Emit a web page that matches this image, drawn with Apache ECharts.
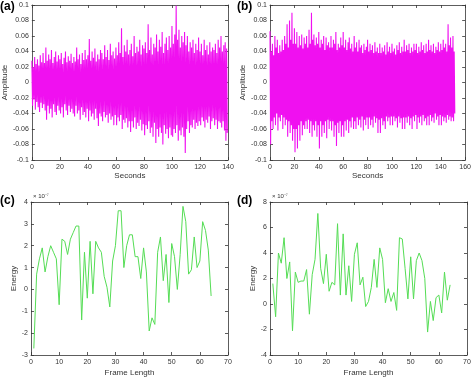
<!DOCTYPE html>
<html>
<head>
<meta charset="utf-8">
<script src="https://cdn.jsdelivr.net/npm/echarts@6/dist/echarts.min.js"></script>
<style>html,body{margin:0;padding:0;background:#fff}#c{width:474px;height:378px}</style>
</head>
<body>
<div id="c"></div>
<script>
// ---- Panel (a): estimated positive / negative peak per second
const aUpper = [
  0.028,0.02,0.033,0.024,0.03,0.022,0.035,0.026,0.038,0.025,
  0.045,0.028,0.036,0.03,0.042,0.025,0.033,0.04,0.027,0.035,
  0.03,0.038,0.024,0.032,0.04,0.026,0.034,0.028,0.037,0.025,
  0.033,0.027,0.045,0.03,0.036,0.024,0.038,0.029,0.042,0.03,
  0.035,0.056,0.028,0.04,0.032,0.044,0.027,0.036,0.03,0.042,
  0.038,0.03,0.048,0.033,0.042,0.029,0.05,0.035,0.04,0.031,
  0.045,0.035,0.052,0.038,0.07,0.033,0.048,0.04,0.055,0.036,
  0.042,0.05,0.034,0.06,0.038,0.046,0.04,0.055,0.036,0.048,
  0.044,0.052,0.038,0.075,0.042,0.058,0.036,0.05,0.045,0.062,
  0.04,0.055,0.046,0.065,0.038,0.05,0.058,0.042,0.06,0.045,
  0.073,0.05,0.062,0.099,0.055,0.068,0.045,0.06,0.052,0.065,
  0.048,0.06,0.04,0.052,0.045,0.055,0.038,0.05,0.042,0.058,
  0.04,0.05,0.035,0.055,0.042,0.048,0.036,0.052,0.04,0.045,
  0.042,0.05,0.038,0.055,0.045,0.06,0.04,0.048,0.052,0.044];
const aLower = [
  -0.03,-0.022,-0.035,-0.025,-0.032,-0.038,-0.026,-0.033,-0.028,-0.036,
  -0.048,-0.03,-0.04,-0.034,-0.045,-0.028,-0.038,-0.042,-0.03,-0.036,
  -0.04,-0.032,-0.045,-0.028,-0.036,-0.042,-0.03,-0.038,-0.034,-0.04,
  -0.044,-0.03,-0.04,-0.036,-0.048,-0.032,-0.042,-0.038,-0.045,-0.034,
  -0.05,-0.036,-0.044,-0.04,-0.048,-0.034,-0.046,-0.056,-0.04,-0.044,
  -0.05,-0.038,-0.045,-0.042,-0.052,-0.04,-0.048,-0.044,-0.055,-0.042,
  -0.055,-0.045,-0.05,-0.042,-0.06,-0.048,-0.052,-0.046,-0.058,-0.05,
  -0.064,-0.05,-0.058,-0.045,-0.06,-0.052,-0.056,-0.048,-0.062,-0.054,
  -0.068,-0.055,-0.06,-0.05,-0.065,-0.058,-0.07,-0.052,-0.078,-0.06,
  -0.07,-0.058,-0.065,-0.08,-0.055,-0.066,-0.06,-0.072,-0.058,-0.068,
  -0.07,-0.06,-0.065,-0.055,-0.075,-0.062,-0.068,-0.058,-0.07,-0.091,
  -0.06,-0.05,-0.065,-0.055,-0.058,-0.048,-0.06,-0.052,-0.056,-0.05,
  -0.055,-0.045,-0.05,-0.058,-0.048,-0.052,-0.044,-0.06,-0.05,-0.046,
  -0.055,-0.048,-0.06,-0.05,-0.052,-0.058,-0.05,-0.062,-0.075,-0.065];

// ---- Panel (b)
const bUpper = [
  0.066,0.04,0.05,0.035,0.06,0.045,0.055,0.038,0.048,0.04,
  0.055,0.042,0.06,0.05,0.075,0.045,0.08,0.055,0.09,0.05,
  0.07,0.05,0.065,0.045,0.06,0.048,0.062,0.044,0.058,0.05,
  0.06,0.045,0.068,0.05,0.09,0.055,0.062,0.048,0.058,0.05,
  0.065,0.045,0.055,0.05,0.06,0.042,0.058,0.048,0.052,0.045,
  0.06,0.045,0.055,0.05,0.065,0.042,0.05,0.045,0.058,0.048,
  0.065,0.045,0.055,0.042,0.052,0.058,0.044,0.05,0.04,0.06,
  0.045,0.052,0.04,0.055,0.045,0.048,0.038,0.05,0.042,0.046,
  0.055,0.04,0.05,0.042,0.048,0.038,0.052,0.04,0.045,0.038,
  0.05,0.038,0.045,0.04,0.048,0.036,0.052,0.04,0.046,0.038,
  0.05,0.04,0.044,0.036,0.048,0.042,0.052,0.038,0.046,0.04,
  0.055,0.04,0.048,0.042,0.05,0.038,0.045,0.04,0.05,0.042,
  0.05,0.038,0.046,0.04,0.052,0.042,0.048,0.038,0.05,0.04,
  0.055,0.042,0.048,0.04,0.05,0.038,0.046,0.042,0.052,0.04,
  0.05,0.042,0.055,0.045,0.05,0.04,0.075,0.048,0.058,0.045,
  0.06,0.04];
const bLower = [
  -0.08,-0.05,-0.06,-0.045,-0.055,-0.04,-0.062,-0.045,-0.05,-0.042,
  -0.06,-0.045,-0.055,-0.048,-0.07,-0.05,-0.065,-0.055,-0.075,-0.06,
  -0.09,-0.06,-0.085,-0.055,-0.075,-0.05,-0.068,-0.055,-0.06,-0.05,
  -0.06,-0.048,-0.065,-0.05,-0.07,-0.055,-0.062,-0.05,-0.07,-0.055,
  -0.085,-0.05,-0.07,-0.055,-0.065,-0.05,-0.072,-0.048,-0.06,-0.05,
  -0.062,-0.05,-0.07,-0.055,-0.082,-0.052,-0.065,-0.05,-0.07,-0.055,
  -0.07,-0.05,-0.062,-0.048,-0.065,-0.05,-0.058,-0.045,-0.06,-0.05,
  -0.06,-0.045,-0.055,-0.048,-0.058,-0.044,-0.062,-0.048,-0.055,-0.045,
  -0.06,-0.045,-0.055,-0.048,-0.058,-0.044,-0.052,-0.046,-0.065,-0.048,
  -0.065,-0.046,-0.055,-0.05,-0.06,-0.044,-0.05,-0.045,-0.055,-0.044,
  -0.055,-0.044,-0.05,-0.046,-0.058,-0.044,-0.052,-0.046,-0.06,-0.045,
  -0.06,-0.045,-0.052,-0.044,-0.055,-0.046,-0.06,-0.044,-0.05,-0.042,
  -0.06,-0.045,-0.052,-0.044,-0.055,-0.042,-0.05,-0.046,-0.055,-0.044,
  -0.055,-0.042,-0.05,-0.045,-0.052,-0.04,-0.048,-0.044,-0.055,-0.042,
  -0.055,-0.044,-0.05,-0.045,-0.052,-0.042,-0.048,-0.044,-0.05,-0.045,
  -0.05,-0.04];

// ---- Panels (c), (d): energy per frame, units of 1e-7
const frames = Array.from({length:64},(_,i)=>i+1);
const cEnergy = [-2.7,0.7,1.4,1.9,0.8,1.5,2.0,1.7,1.4,-0.7,2.3,2.2,1.6,2.3,2.6,2.9,2.9,-1.4,1.7,-0.4,
  2.2,-0.2,2.2,1.9,1.7,0.6,0.1,-0.8,1.3,2.0,3.6,3.6,1.0,2.0,2.5,2.5,1.5,1.5,0.5,1.9,
  0.8,-1.9,-1.3,-1.6,1.7,2.4,0.4,1.6,-0.6,2.1,1.5,0.0,1.6,3.8,3.1,0.7,0.9,2.4,1.0,1.3,
  3.1,2.7,1.8,-0.3];
const dEnergy = [1.6,-1.0,4.0,3.2,5.2,2.0,3.3,-2.1,2.5,1.7,1.8,1.8,2.7,-0.8,2.3,3.5,7.1,2.8,1.6,3.9,
  1.0,1.7,1.5,6.3,0.7,5.5,0.7,3.0,0.2,3.9,4.8,1.5,2.1,-0.2,0.2,1.3,3.5,1.3,4.4,3.5,
  0.1,1.2,0.2,0.9,-0.5,5.2,5.1,2.8,0.4,3.7,0.4,3.4,4.0,3.4,2.0,-2.2,0.2,-1.3,0.5,0.7,
  -0.7,2.5,0.3,1.5];

// axis tick definitions
const secTicksA = {min:0,max:140,interval:20};
const secTicksB = {min:0,max:160,interval:20};
const ampTicks = {min:-0.1,max:0.1,interval:0.02};
const frameTicks = {min:0,max:70,interval:10};
const cTicks = {min:-3,max:4,interval:1};
const dTicks = {min:-4,max:8,interval:2};

function zigzag(up, lo){
  const out=[];
  for(let k=0;k<up.length;k++){ out.push([k, up[k]]); out.push([k+0.5, lo[k]]); }
  return out;
}

const FONT='Liberation Sans, Arial, sans-serif';
const grids=[
  {left:31,top:5,width:197,height:155},
  {left:270,top:5,width:197,height:155},
  {left:31,top:202,width:197,height:156},
  {left:270,top:202,width:197,height:156}
];
const xDefs=[[secTicksA,'Seconds',12],[secTicksB,'Seconds',12],[frameTicks,'Frame Length',14],[frameTicks,'Frame Length',14]];
const yDefs=[[ampTicks,'Amplitude',16],[ampTicks,'Amplitude',16],[cTicks,'Energy',7],[dTicks,'Energy',7]];
const axLine={show:true,onZero:false,lineStyle:{color:'#333',width:0.8}};
const tick={show:true,inside:true,length:3,lineStyle:{color:'#333',width:0.8}};
const xAxis=[], yAxis=[];
grids.forEach((g,i)=>{
  xAxis.push({type:'value',gridIndex:i,...xDefs[i][0],name:xDefs[i][1],nameLocation:'middle',nameGap:xDefs[i][2],
    nameTextStyle:{fontSize:8,color:'#333',fontFamily:FONT},axisLine:axLine,axisTick:tick,splitLine:{show:false},
    axisLabel:{fontSize:7,color:'#333',margin:4,fontFamily:FONT}});
  xAxis.push({type:'value',gridIndex:i,...xDefs[i][0],position:'top',axisLine:axLine,axisTick:tick,splitLine:{show:false},axisLabel:{show:false}});
  yAxis.push({type:'value',gridIndex:i,...yDefs[i][0],name:yDefs[i][1],nameLocation:'middle',nameGap:yDefs[i][2],
    nameTextStyle:{fontSize:8,color:'#333',fontFamily:FONT},axisLine:axLine,axisTick:tick,splitLine:{show:false},
    axisLabel:{fontSize:7,color:'#333',margin:3,fontFamily:FONT}});
  yAxis.push({type:'value',gridIndex:i,...yDefs[i][0],position:'right',axisLine:axLine,axisTick:tick,splitLine:{show:false},axisLabel:{show:false}});
});
const series=[
  {type:'line',xAxisIndex:0,yAxisIndex:0,data:zigzag(aUpper,aLower),showSymbol:false,lineStyle:{color:'#f010f0',width:1.1},z:2},
  {type:'line',xAxisIndex:2,yAxisIndex:2,data:zigzag(bUpper,bLower),showSymbol:false,lineStyle:{color:'#f010f0',width:1.1},z:2},
  {type:'line',xAxisIndex:4,yAxisIndex:4,data:frames.map((f,i)=>[f,cEnergy[i]]),showSymbol:false,lineStyle:{color:'#55dd55',width:1}},
  {type:'line',xAxisIndex:6,yAxisIndex:6,data:frames.map((f,i)=>[f,dEnergy[i]]),showSymbol:false,lineStyle:{color:'#55dd55',width:1}}
];
const lab=(t,l,tp)=>({type:'text',left:l,top:tp,style:{text:t,font:'bold 12px '+FONT,fill:'#000'}});
const exp=(l,tp)=>({type:'text',left:l,top:tp,style:{text:'× 10⁻⁷',font:'6px '+FONT,fill:'#333'}});
const chart=echarts.init(document.getElementById('c'),null,{renderer:'canvas'});
chart.setOption({animation:false,backgroundColor:'#fff',grid:grids,xAxis,yAxis,series,
  graphic:[lab('(a)',0,1),lab('(b)',237,1),lab('(c)',0,195),lab('(d)',237,195),exp(33,193),exp(272,193)]});
</script>
</body>
</html>
